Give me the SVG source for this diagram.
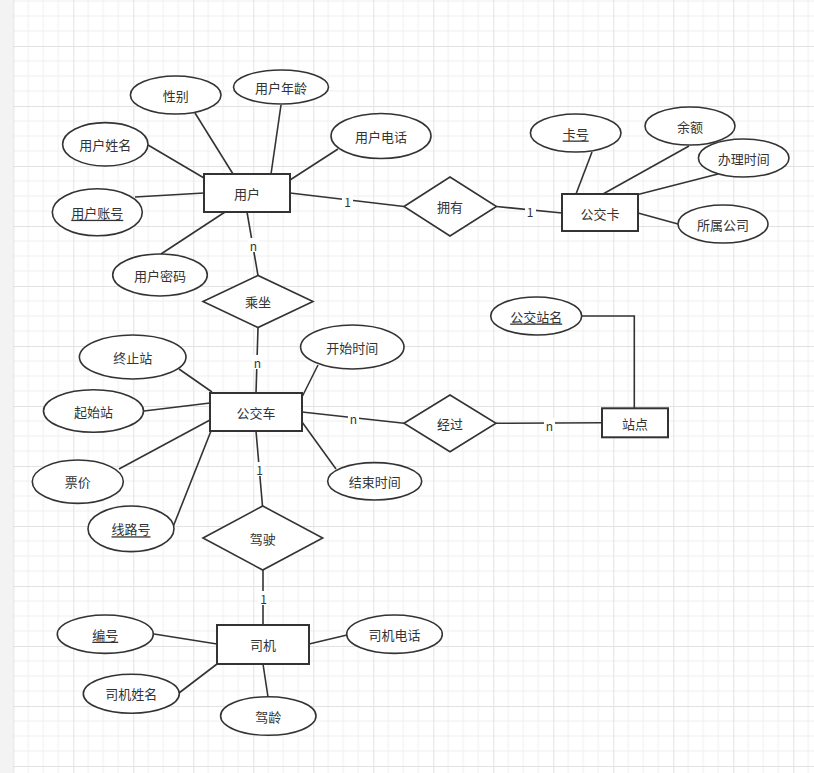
<svg xmlns="http://www.w3.org/2000/svg" width="814" height="773" viewBox="0 0 814 773">
<defs>
<pattern id="grid" patternUnits="userSpaceOnUse" x="13.3" y="46" width="60" height="60">
<path d="M15 0V60M30 0V60M45 0V60M0 15H60M0 30H60M0 45H60" stroke="#efefef" stroke-width="1" fill="none"/>
<path d="M0.5 0V60M0 0.5H60" stroke="#e2e2e2" stroke-width="1" fill="none"/>
</pattern>
<style>
.e{fill:#fff;stroke:#333;stroke-width:1.6}
.r{fill:#fff;stroke:#333;stroke-width:2}
.d{fill:#fff;stroke:#333;stroke-width:1.6}
.c line,.c path{stroke:#333;stroke-width:1.6;fill:none}
text{font-family:"Noto Sans CJK SC","Noto Sans",sans-serif;font-size:13px;fill:#333;text-anchor:middle;dominant-baseline:central}
.u{text-decoration:underline}
.lb{fill:#fff;stroke:none}
.lt{font-size:12px}
</style>
</defs>
<rect x="0" y="0" width="814" height="773" fill="#fff"/>
<rect x="13" y="0" width="801" height="773" fill="url(#grid)"/>
<rect x="0" y="0" width="13" height="773" fill="#f3f3f3"/>

<g id="connectors" class="c">
<line x1="195" y1="113" x2="233" y2="174"/>
<line x1="281" y1="105" x2="271" y2="174"/>
<line x1="338" y1="149" x2="290" y2="180"/>
<line x1="148" y1="145" x2="204" y2="178"/>
<line x1="135" y1="197" x2="204" y2="193"/>
<line x1="161" y1="254" x2="225" y2="212"/>
<line x1="290" y1="193" x2="404" y2="206.5"/>
<line x1="247" y1="212" x2="258" y2="275.5"/>
<line x1="496.5" y1="206.5" x2="562" y2="213"/>
<line x1="592" y1="152" x2="576" y2="194"/>
<line x1="689" y1="146" x2="603" y2="194"/>
<line x1="718" y1="174" x2="636" y2="195"/>
<line x1="678" y1="224" x2="638" y2="213"/>
<line x1="179" y1="369" x2="212" y2="392"/>
<line x1="144" y1="411" x2="210" y2="403"/>
<line x1="119" y1="469" x2="210" y2="420"/>
<line x1="173" y1="527" x2="211" y2="431"/>
<line x1="318" y1="365" x2="302" y2="397"/>
<line x1="336" y1="469" x2="302" y2="422"/>
<line x1="258" y1="327.5" x2="256" y2="393"/>
<line x1="256" y1="431" x2="262.5" y2="506"/>
<line x1="302" y1="412" x2="404" y2="423.3"/>
<line x1="496" y1="423.3" x2="602" y2="422.7"/>
<path d="M581.7 316H634.3V408"/>
<line x1="263" y1="570" x2="263" y2="625"/>
<line x1="154" y1="634" x2="217" y2="644"/>
<line x1="179" y1="693" x2="217" y2="664"/>
<line x1="263" y1="664" x2="268" y2="697"/>
<line x1="347" y1="635" x2="309" y2="644"/>
<g id="labels">
<rect class="lb" x="342" y="194" width="11" height="14"/><text class="lt" x="347.5" y="201">1</text>
<rect class="lb" x="248" y="238" width="11" height="14"/><text class="lt" x="253.5" y="245">n</text>
<rect class="lb" x="525" y="204" width="11" height="14"/><text class="lt" x="530" y="211">1</text>
<rect class="lb" x="252" y="355" width="11" height="14"/><text class="lt" x="257.5" y="362">n</text>
<rect class="lb" x="254" y="462" width="11" height="14"/><text class="lt" x="259.5" y="469">1</text>
<rect class="lb" x="348" y="411" width="11" height="14"/><text class="lt" x="353.5" y="418">n</text>
<rect class="lb" x="544" y="418" width="11" height="14"/><text class="lt" x="549.5" y="425">n</text>
<rect class="lb" x="258" y="591" width="11" height="14"/><text class="lt" x="263.5" y="598">1</text>
</g>
</g>

<g id="user"><rect class="r" x="204" y="174" width="86" height="38"/><text x="247" y="193">用户</text></g>
<g id="user-gender"><ellipse class="e" cx="175.7" cy="95" rx="45.3" ry="19"/><text x="175.7" y="95">性别</text></g>
<g id="user-age"><ellipse class="e" cx="281" cy="87" rx="47.5" ry="17"/><text x="281" y="87">用户年龄</text></g>
<g id="user-phone"><ellipse class="e" cx="381" cy="136" rx="50" ry="22.5"/><text x="381" y="136">用户电话</text></g>
<g id="user-name"><ellipse class="e" cx="105.3" cy="144.3" rx="42.7" ry="21.7"/><text x="105.3" y="144.3">用户姓名</text></g>
<g id="user-account"><ellipse class="e" cx="97.3" cy="212.3" rx="45" ry="23.5"/><text class="u" x="97.3" y="212.3">用户账号</text></g>
<g id="user-password"><ellipse class="e" cx="160" cy="275" rx="47.3" ry="21"/><text x="160" y="275">用户密码</text></g>

<g id="own"><polygon class="d" points="404,206.5 450,177 496.5,206.5 450,236"/><text x="450" y="206.5">拥有</text></g>
<g id="card"><rect class="r" x="562" y="194" width="76" height="37"/><text x="600" y="213">公交卡</text></g>
<g id="card-no"><ellipse class="e" cx="575.7" cy="133" rx="45.3" ry="19"/><text class="u" x="575.7" y="133">卡号</text></g>
<g id="card-balance"><ellipse class="e" cx="690" cy="126" rx="45" ry="19"/><text x="690" y="126">余额</text></g>
<g id="card-time"><ellipse class="e" cx="743.7" cy="158" rx="45.3" ry="19"/><text x="743.7" y="158">办理时间</text></g>
<g id="card-company"><ellipse class="e" cx="723" cy="224" rx="45" ry="19"/><text x="723" y="224">所属公司</text></g>

<g id="ride"><polygon class="d" points="203,301.5 258,275.5 313,301.5 258,327.5"/><text x="258" y="301.5">乘坐</text></g>
<g id="bus"><rect class="r" x="210" y="393" width="92" height="38"/><text x="256" y="412">公交车</text></g>
<g id="bus-end"><ellipse class="e" cx="132.7" cy="357" rx="53.3" ry="22"/><text x="132.7" y="357">终止站</text></g>
<g id="bus-start"><ellipse class="e" cx="93.5" cy="411" rx="50" ry="21.3"/><text x="93.5" y="411">起始站</text></g>
<g id="bus-fare"><ellipse class="e" cx="77.8" cy="481.7" rx="45.5" ry="21.7"/><text x="77.8" y="481.7">票价</text></g>
<g id="bus-line"><ellipse class="e" cx="131" cy="528.8" rx="43" ry="22.8"/><text class="u" x="131" y="528.8">线路号</text></g>
<g id="bus-begin-time"><ellipse class="e" cx="352.3" cy="347" rx="51.7" ry="22"/><text x="352.3" y="347">开始时间</text></g>
<g id="bus-end-time"><ellipse class="e" cx="374.7" cy="481.3" rx="47" ry="18.7"/><text x="374.7" y="481.3">结束时间</text></g>

<g id="pass"><polygon class="d" points="404,423.3 450,395 496,423.3 450,451.7"/><text x="450" y="423.3">经过</text></g>
<g id="station"><rect class="r" x="602" y="408.3" width="66" height="29"/><text x="635" y="423">站点</text></g>
<g id="station-name"><ellipse class="e" cx="536.2" cy="316" rx="45.5" ry="19"/><text class="u" x="536.2" y="316">公交站名</text></g>

<g id="drive"><polygon class="d" points="203,538 262.7,506 322.7,538 262.7,570"/><text x="262.7" y="538">驾驶</text></g>
<g id="driver"><rect class="r" x="217" y="625" width="92" height="39"/><text x="263" y="644.5">司机</text></g>
<g id="driver-no"><ellipse class="e" cx="105.3" cy="634.2" rx="48" ry="19.2"/><text class="u" x="105.3" y="634.2">编号</text></g>
<g id="driver-name"><ellipse class="e" cx="131.3" cy="693.8" rx="48" ry="19.5"/><text x="131.3" y="693.8">司机姓名</text></g>
<g id="driver-years"><ellipse class="e" cx="268.3" cy="716" rx="47.7" ry="19.3"/><text x="268.3" y="716">驾龄</text></g>
<g id="driver-phone"><ellipse class="e" cx="394.5" cy="634.2" rx="47.8" ry="19.2"/><text x="394.5" y="634.2">司机电话</text></g>
</svg>
